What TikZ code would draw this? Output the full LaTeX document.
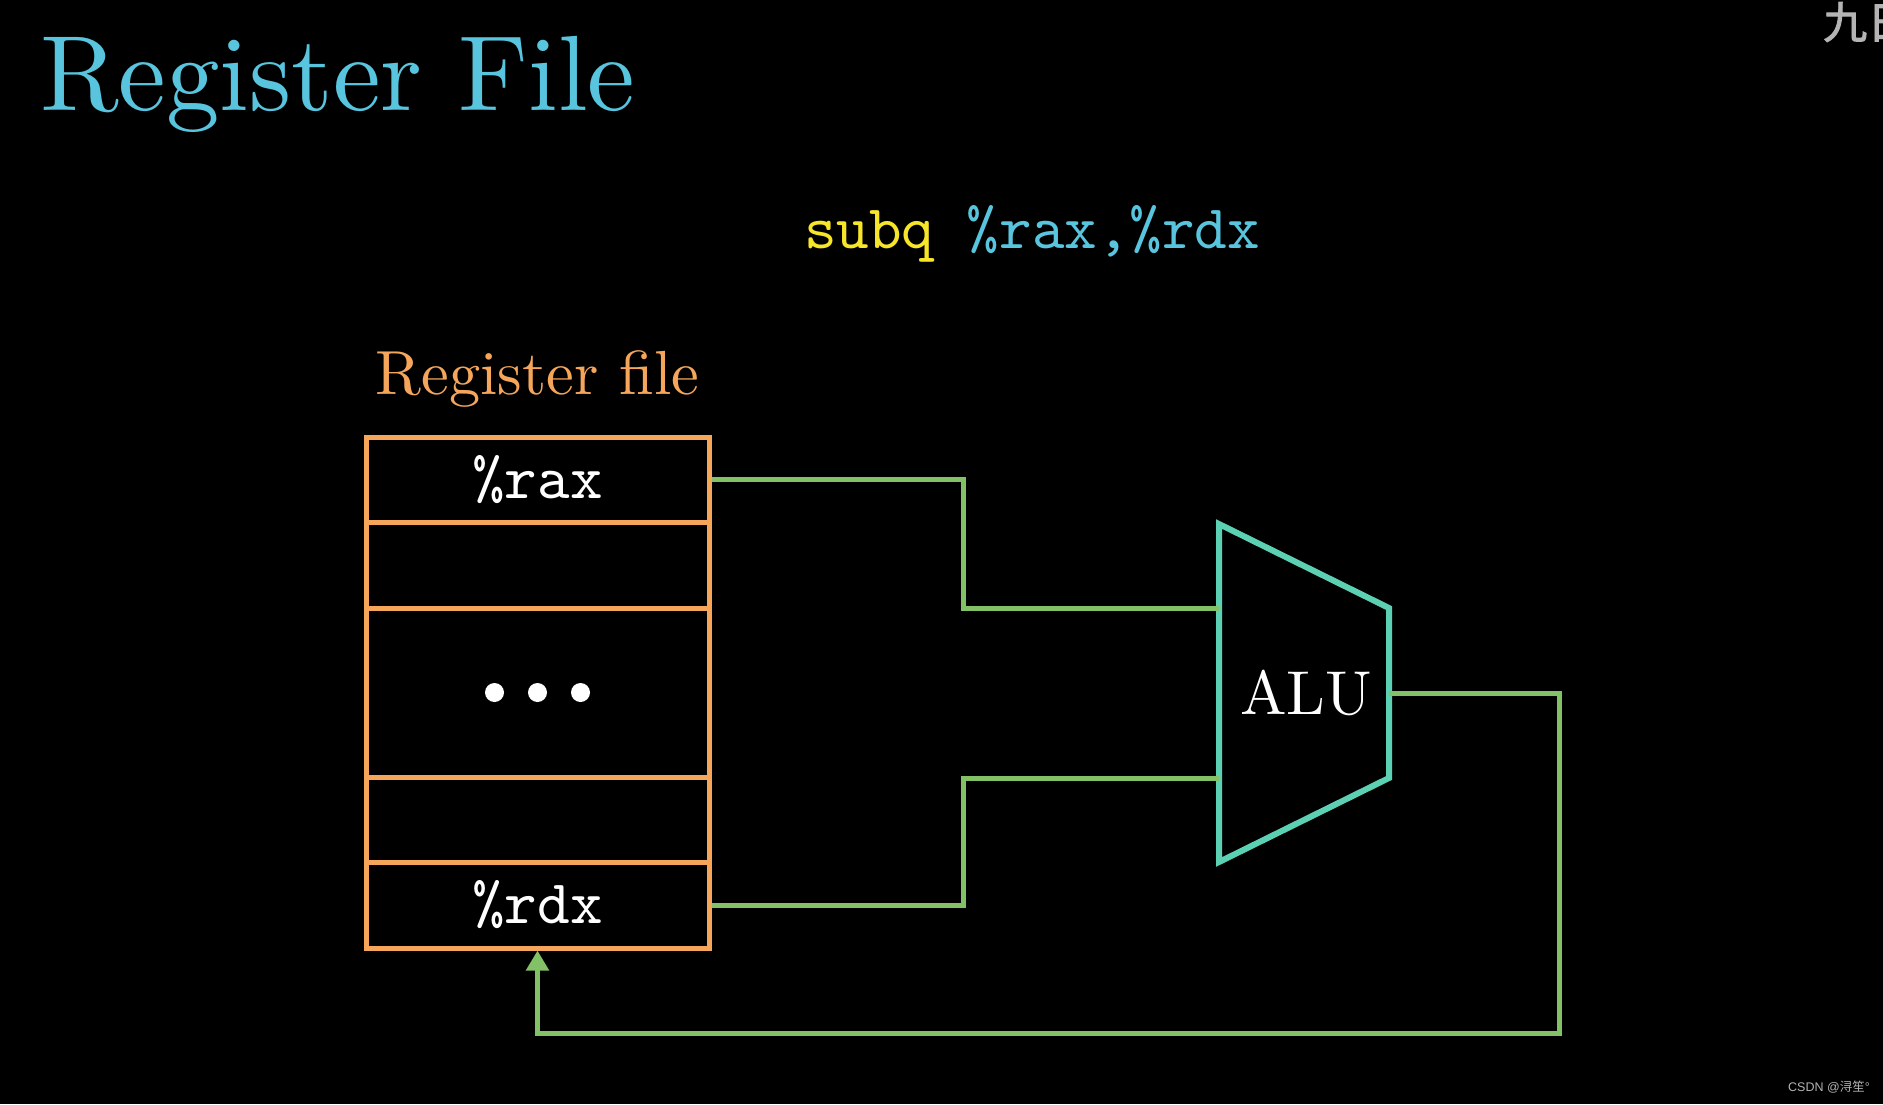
\documentclass[tikz,border=0pt]{standalone}
\usepackage{fontspec}
\newfontfamily\cjk{Noto Sans CJK SC}
\newfontfamily\cjkbold[FakeBold=2]{Noto Sans CJK SC}
\newfontfamily\wmfont{Liberation Sans}
\newfontfamily\lmten{lmroman10-regular.otf}
\newfontfamily\lmtt{lmmono10-regular.otf}
\usetikzlibrary{arrows.meta}
\definecolor{tblue}{HTML}{58C4DD}
\definecolor{tyellow}{HTML}{F7E52A}
\definecolor{torange}{HTML}{F5A65A}
\definecolor{tgreen}{HTML}{83C167}
\definecolor{tteal}{HTML}{5CD0B3}
\definecolor{wmgray}{HTML}{B4B4B4}
\tikzset{
  regrow/.style={draw=torange, line width=5pt, minimum width=343pt, inner sep=0pt, text=white,
    font=\lmtt\fontsize{62}{62}\selectfont},
  wire/.style={draw=tgreen, line width=5pt},
  alushape/.style={draw=tteal, line width=6pt, line join=miter},
}
\begin{document}
\begin{tikzpicture}[x=1pt,y=-1pt]
\fill[black] (0,0) rectangle (1883,1104);
\useasboundingbox (0,0) rectangle (1883,1104);
\clip (0,0) rectangle (1883,1104);

% title
\node[anchor=base west, inner sep=0pt, text=tblue, font=\lmten\fontsize{107}{110}\selectfont] (title) at (40,110) {Register File};

% instruction
\node[anchor=base west, inner sep=0pt, font=\lmtt\fontsize{62}{62}\selectfont] (instr) at (804,248)
  {\textcolor{tyellow}{subq} \textcolor{tblue}{\%rax,\%rdx}};

% register file label
\node[anchor=base, inner sep=0pt, text=torange, font=\lmten\fontsize{62.3}{64}\selectfont] (rflabel) at (537.5,394) {Register file};

% register file rows
\node[regrow, minimum height=85pt] (rax) at (537.5,479.5) {\%rax};
\node[regrow, minimum height=86pt] (e1) at (537.5,565) {};
\node[regrow, minimum height=169pt] (dots) at (537.5,692.5) {};
\node[regrow, minimum height=85pt] (e2) at (537.5,819.5) {};
\node[regrow, minimum height=86pt] (rdx) at (537.5,905) {\%rdx};

\fill[white] (dots.center) ++(-43,0) circle (9.5);
\fill[white] (dots.center) circle (9.5);
\fill[white] (dots.center) ++(43,0) circle (9.5);

% ALU
\coordinate (alutl) at (1219,524);
\coordinate (alutr) at (1389,608);
\coordinate (alubr) at (1389,778);
\coordinate (alubl) at (1219,862);
\coordinate (aluin1) at (1219,608);
\coordinate (aluin2) at (1219,778);
\coordinate (aluout) at (1389,693);
\draw[alushape] (alutl) -- (alutr) -- (alubr) -- (alubl) -- cycle;
\node[text=white, inner sep=0pt, font=\lmten\fontsize{62}{62}\selectfont] (alu) at (1306,693) {ALU};

% wires
\draw[wire] (rax.east) -- ++(252,0) |- (aluin1);
\draw[wire] (rdx.east) -- ++(252,0) |- (aluin2);
\coordinate (fbc) at (1559,1033);
\draw[wire, -{Triangle[length=20pt,width=22pt]}] (aluout) -| (fbc) -| (rdx.south);

% watermarks
\node[anchor=west, inner sep=0pt, text=wmgray, font=\cjkbold\fontsize{44}{44}\selectfont] (wm1) at (1823,22) {九日};
\node[anchor=west, inner sep=0pt, text=wmgray, font=\fontsize{12.5}{13}\selectfont] (wm2) at (1788,1087)
  {\wmfont CSDN @\cjk 浔笙\wmfont °};
\end{tikzpicture}
\end{document}
